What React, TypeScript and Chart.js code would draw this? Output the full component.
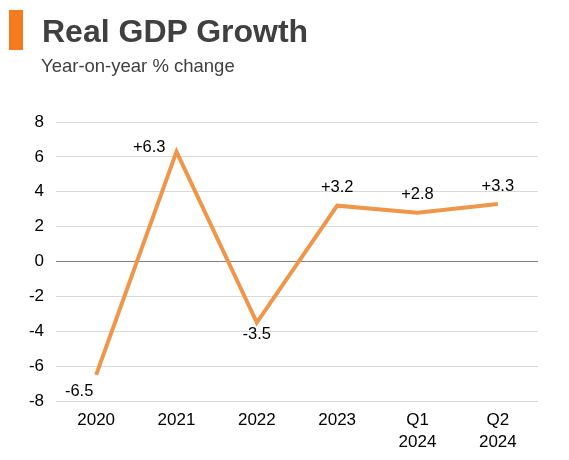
import React, { useEffect, useRef } from "react";
import { Chart, registerables } from "chart.js";

Chart.register(...registerables);

const categories = [["2020"], ["2021"], ["2022"], ["2023"], ["Q1", "2024"], ["Q2", "2024"]];
const growth = [-6.5, 6.3, -3.5, 3.2, 2.8, 3.3];
const labelPlacement = ["belowLeft", "left", "below", "above", "above", "above"];

const LINE_COLOR = "#F0964A";

const valueLabels = {
  id: "valueLabels",
  afterDatasetsDraw(chart: any) {
    const { ctx } = chart;
    const meta = chart.getDatasetMeta(0);
    ctx.save();
    ctx.font = "16.5px Arial, 'Liberation Sans', sans-serif";
    ctx.fillStyle = "#000";
    ctx.textBaseline = "middle";
    meta.data.forEach((pt: any, i: number) => {
      const v = growth[i];
      const text = (v > 0 ? "+" : "") + v.toFixed(1);
      let x = pt.x;
      let y = pt.y;
      ctx.textAlign = "center";
      switch (labelPlacement[i]) {
        case "left":
          ctx.textAlign = "right";
          x -= 11;
          y -= 4;
          break;
        case "belowLeft":
          x -= 17;
          y += 17;
          break;
        case "below":
          y += 12;
          break;
        default:
          y -= 18;
      }
      ctx.fillText(text, x, y);
    });
    ctx.restore();
  },
};

const GdpChart: React.FC = () => {
  const canvasRef = useRef<HTMLCanvasElement>(null);
  const chartRef = useRef<Chart>();

  useEffect(() => {
    if (!canvasRef.current) return;
    chartRef.current = new Chart(canvasRef.current, {
      type: "line",
      data: {
        labels: categories,
        datasets: [
          {
            data: growth,
            borderColor: LINE_COLOR,
            borderWidth: 4,
            pointRadius: 0,
            tension: 0,
            fill: false,
          },
        ],
      },
      options: {
        animation: false,
        responsive: false,
        layout: { padding: { top: 122, right: 31, left: 0, bottom: 0 } },
        plugins: {
          legend: { display: false },
          tooltip: { enabled: false },
        },
        scales: {
          x: {
            offset: true,
            grid: { display: false, drawTicks: false },
            border: { display: false },
            afterFit: (scale: any) => {
              scale.height = 59;
            },
            ticks: {
              padding: 9,
              color: "#000",
              maxRotation: 0,
              font: { family: "Arial, 'Liberation Sans', sans-serif", size: 17, lineHeight: 1.25 },
            },
          },
          y: {
            min: -8,
            max: 8,
            afterFit: (scale: any) => {
              scale.width = 56;
            },
            grid: {
              drawTicks: false,
              color: (c: any) => (c.tick && c.tick.value === 0 ? "#808080" : "#d9d9d9"),
              lineWidth: 1,
            },
            border: { display: false },
            ticks: {
              stepSize: 2,
              padding: 12,
              color: "#000",
              font: { family: "Arial, 'Liberation Sans', sans-serif", size: 17 },
            },
          },
        },
      },
      plugins: [valueLabels],
    });
    return () => {
      chartRef.current?.destroy();
    };
  }, []);

  return <canvas ref={canvasRef} width={569} height={460} />;
};

const App: React.FC = () => {
  return (
    <div
      style={{
        position: "fixed",
        left: 0,
        top: 0,
        width: 569,
        height: 460,
        background: "#fff",
        fontFamily: "Arial, 'Liberation Sans', sans-serif",
      }}
    >
      <GdpChart />
      <div
        style={{
          position: "absolute",
          left: 9,
          top: 10,
          width: 14,
          height: 40,
          background: "#F47B20",
        }}
      />
      <div
        style={{
          position: "absolute",
          left: 42,
          top: 13,
          fontSize: 32,
          fontWeight: "bold",
          color: "#404040",
          lineHeight: "36px",
        }}
      >
        Real GDP Growth
      </div>
      <div
        style={{
          position: "absolute",
          left: 41,
          top: 55,
          fontSize: 18.5,
          color: "#404040",
          lineHeight: "22px",
        }}
      >
        Year-on-year % change
      </div>
    </div>
  );
};

export default App;
